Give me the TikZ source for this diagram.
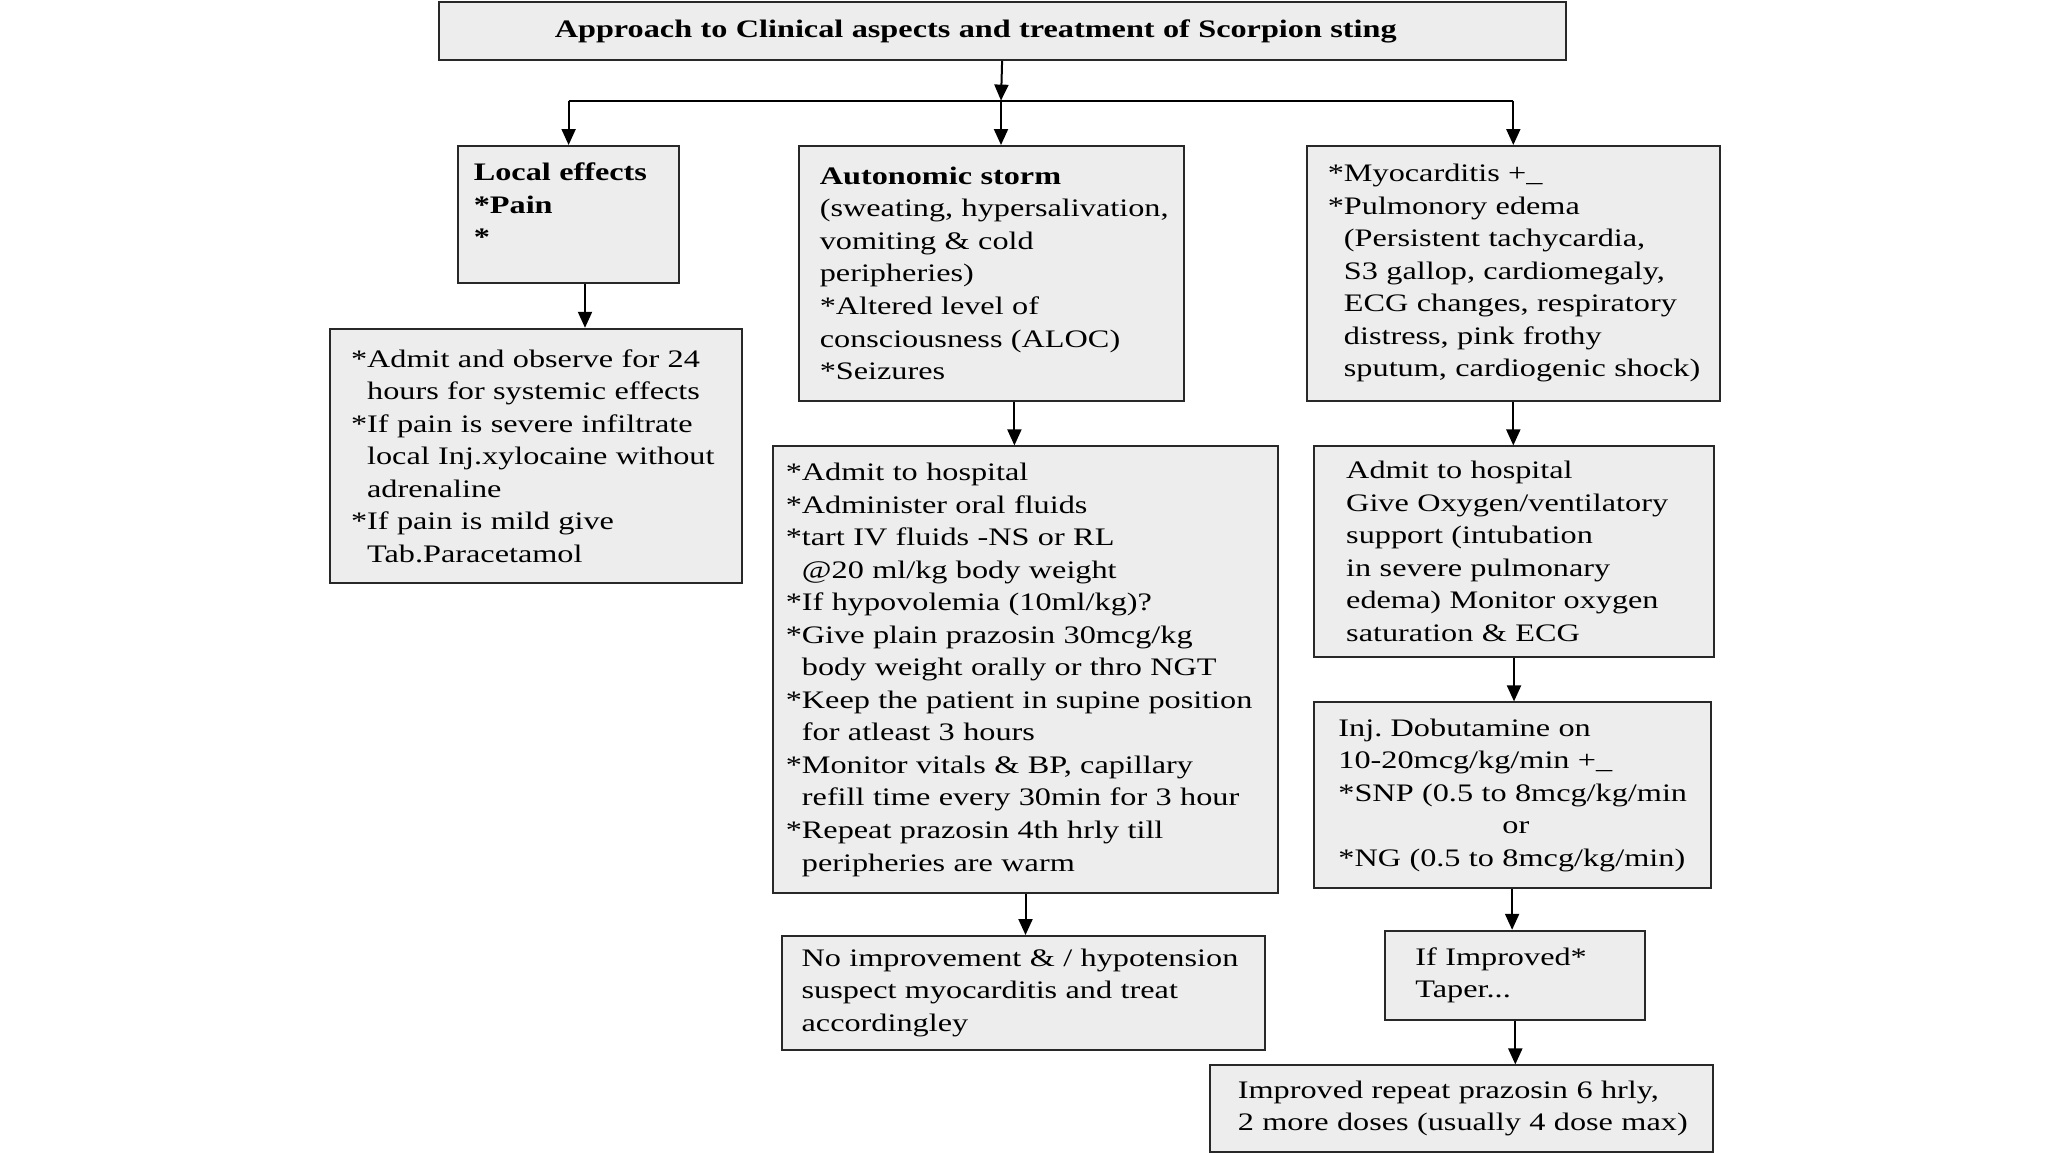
\documentclass[tikz,border=0pt]{standalone}
\usepackage{xcolor}
\usepackage{tikz}
\usepackage{fontspec}
\setmainfont{Liberation Serif}[FakeStretch=1.28]
\usetikzlibrary{positioning,calc,arrows.meta}

\definecolor{boxgray}{RGB}{237,237,237}
\definecolor{boxline}{RGB}{40,40,40}

\begin{document}
\begin{tikzpicture}[x=1pt,y=-1pt,
    box/.style={draw=boxline, fill=boxgray, line width=1pt, anchor=north west,
        align=left, inner ysep=0pt, font=\fontsize{12.6}{16.27}\selectfont\frenchspacing,
        execute at begin node={\rightskip=-4em plus 1fil\relax}},
    arr/.style={-{Triangle[length=8pt,width=7pt]}, line width=1pt, draw=black}]
    \useasboundingbox (0,0) rectangle (1024,576);

    % top of the chart
    \node[box, minimum width=563.5pt, minimum height=28.7pt, inner xsep=58.1pt, text width=447.3pt] (title) at (218.8,0.7)
        {\textbf{Approach to Clinical aspects and treatment of Scorpion sting}};

    % three branches
    \node[box, minimum width=110.4pt, minimum height=68.6pt, inner xsep=7.8pt, text width=94.8pt, text depth=43pt] (local) at (228.6,72.5)
        {\textbf{Local effects}\\ \textbf{*Pain}\\ \textbf{*}};
    \node[box, minimum width=192.6pt, minimum height=127.3pt, inner xsep=10.4pt, text width=171.8pt] (auto) at (399.0,72.5)
        {\textbf{Autonomic storm}\\
         (sweating, hypersalivation,\\
         vomiting \& cold\\
         peripheries)\\
         {*}Altered level of\\
         consciousness (ALOC)\\
         {*}Seizures};
    \node[box, minimum width=206.3pt, minimum height=127.3pt, inner xsep=10.4pt, text width=185.5pt] (myo) at (653.0,72.5)
        {*Myocarditis +\_\\
         {*}Pulmonory edema\\
         \phantom{*}(Persistent tachycardia,\\
         \phantom{*}S3 gallop, cardiomegaly,\\
         \phantom{*}ECG changes, respiratory\\
         \phantom{*}distress, pink frothy\\
         \phantom{*}sputum, cardiogenic shock)};

    % treatment steps
    \node[box, minimum width=205.7pt, minimum height=127.3pt, inner xsep=10.4pt, text width=184.9pt] (obs) at (164.6,163.9)
        {*Admit and observe for 24\\
         \phantom{*}hours for systemic effects\\
         {*}If pain is severe infiltrate\\
         \phantom{*}local Inj.xylocaine without\\
         \phantom{*}adrenaline\\
         {*}If pain is mild give\\
         \phantom{*}Tab.Paracetamol};
    \node[box, minimum width=252.7pt, minimum height=223.3pt, inner xsep=6.5pt, text width=239.7pt] (care) at (385.9,222.7)
        {*Admit to hospital\\
         {*}Administer oral fluids\\
         {*}tart IV fluids -NS or RL\\
         \phantom{*}@20 ml/kg body weight\\
         {*}If hypovolemia (10ml/kg)?\\
         {*}Give plain prazosin 30mcg/kg\\
         \phantom{*}body weight orally or thro NGT\\
         {*}Keep the patient in supine position\\
         \phantom{*}for atleast 3 hours\\
         {*}Monitor vitals \& BP, capillary\\
         \phantom{*}refill time every 30min for 3 hour\\
         {*}Repeat prazosin 4th hrly till\\
         \phantom{*}peripheries are warm};
    \node[box, minimum width=241.6pt, minimum height=56.8pt, inner xsep=9.8pt, text width=222.0pt] (noimp) at (390.5,467.5)
        {No improvement \& / hypotension\\
         suspect myocarditis and treat\\
         accordingley};
    \node[box, minimum width=200.4pt, minimum height=105.1pt, inner xsep=16.3pt, text width=167.8pt] (oxy) at (656.3,222.7)
        {Admit to hospital\\
         Give Oxygen/ventilatory\\
         support (intubation\\
         in severe pulmonary\\
         edema) Monitor oxygen\\
         saturation \& ECG};
    \node[box, minimum width=198.5pt, minimum height=92.7pt, inner xsep=12.4pt, text width=173.7pt] (dobu) at (656.3,350.7)
        {Inj. Dobutamine on\\
         10-20mcg/kg/min +\_\\
         {*}SNP (0.5 to 8mcg/kg/min\\
         \hspace*{82pt}or\\
         {*}NG (0.5 to 8mcg/kg/min)};
    \node[box, minimum width=129.9pt, minimum height=44.4pt, inner xsep=15pt, text width=99.9pt] (ifimp) at (692.2,464.9)
        {If Improved*\\
         Taper...};
    \node[box, minimum width=251.4pt, minimum height=43.1pt, inner xsep=13.7pt, text width=224.0pt] (final) at (604.7,532.2)
        {Improved repeat prazosin 6 hrly,\\
         2 more doses (usually 4 dose max)};

    % connectors
    \coordinate (split) at (500.5,50.3);
    \draw[arr] (title.south) -- (split);
    \draw[line width=1pt] (split -| local.north) -- (split -| myo.north);
    \draw[arr] (split -| local.north) -- (local.north);
    \draw[arr] (split) -- (split |- auto.north);
    \draw[arr] (split -| myo.north) -- (myo.north);
    \draw[arr] ([xshift=8.2pt]local.south) -- ([xshift=8.2pt]local.south |- obs.north);
    \draw[arr] ([xshift=11.4pt]auto.south) -- ([xshift=11.4pt]auto.south |- care.north);
    \draw[arr] (care.south) -- (care.south |- noimp.north);
    \draw[arr] (myo.south) -- (myo.south |- oxy.north);
    \draw[arr] (oxy.south) -- (oxy.south |- dobu.north);
    \draw[arr] (dobu.south) -- (dobu.south |- ifimp.north);
    \draw[arr] (ifimp.south) -- (ifimp.south |- final.north);
\end{tikzpicture}
\end{document}
